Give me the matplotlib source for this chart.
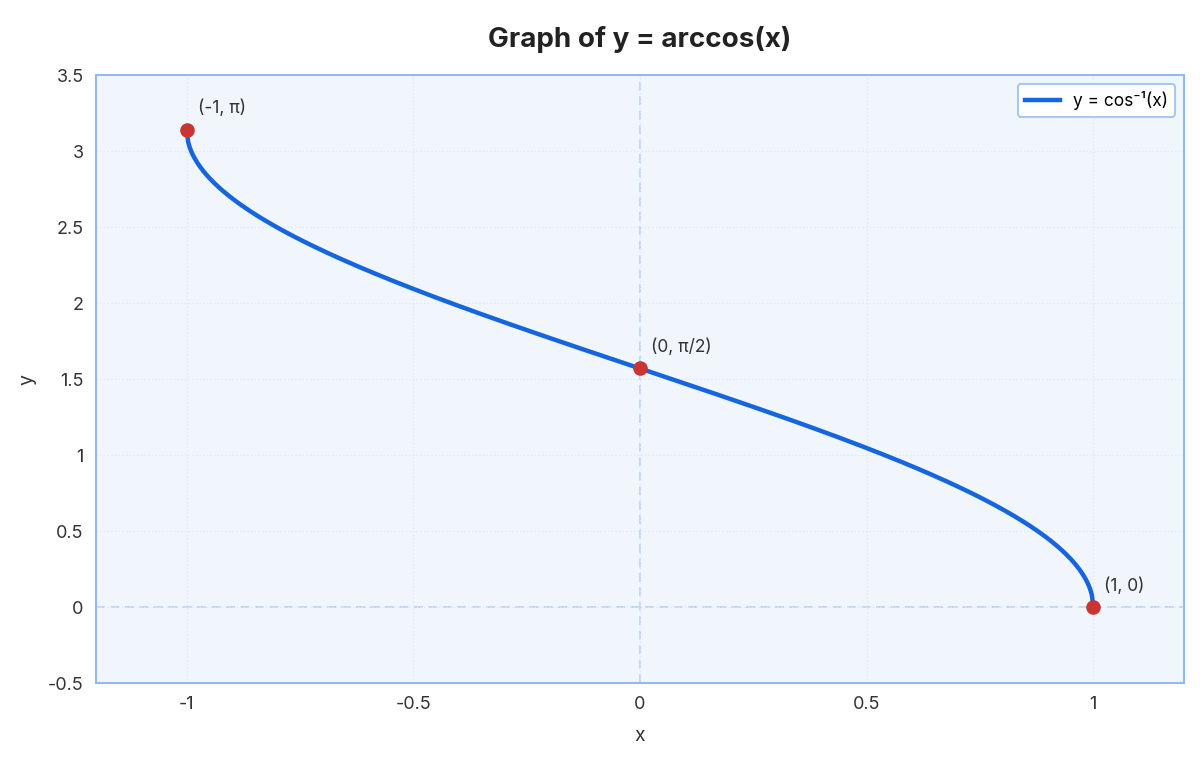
import numpy as np
import matplotlib.pyplot as plt
from matplotlib.ticker import FuncFormatter

plt.rcParams['font.family'] = ['Inter', 'DejaVu Sans']

# Curve samples and marked points
x_vals = np.linspace(-1, 1, 600)
y_vals = np.arccos(x_vals)
point_x = [-1, 0, 1]
point_y = [np.pi, np.pi / 2, 0]
point_labels = ['(-1, π)', '(0, π/2)', '(1, 0)']

fig, ax = plt.subplots(figsize=(12, 7.6), dpi=100)
fig.subplots_adjust(left=0.08, right=0.9867, top=0.901, bottom=0.101)

ax.set_facecolor('#f1f6fd')
for s in ax.spines.values():
    s.set_color('#93b9f3')
    s.set_linewidth(1.5)

ax.axhline(0, color='#bcd3f5', linestyle='--', linewidth=1.3, dashes=(5, 3), zorder=1)
ax.axvline(0, color='#bcd3f5', linestyle='--', linewidth=1.3, dashes=(5, 3), zorder=1)
ax.grid(True, color='#e0e8f4', linestyle=':', linewidth=1)

ax.plot(x_vals, y_vals, color='#1565e0', linewidth=3.2, label='y = cos⁻¹(x)', zorder=3)
ax.scatter(point_x, point_y, color='#cc3333', s=90, zorder=4)
for px, py, lab in zip(point_x, point_y, point_labels):
    ax.annotate(lab, (px, py), xytext=(8, 12), textcoords='offset points',
                fontsize=12.5, color='#333333')

ax.set_xlim(-1.2, 1.2)
ax.set_ylim(-0.5, 3.5)
ax.set_xticks([-1, -0.5, 0, 0.5, 1])
ax.set_yticks([-0.5, 0, 0.5, 1, 1.5, 2, 2.5, 3, 3.5])
fmt = FuncFormatter(lambda v, p: f'{v:g}')
ax.xaxis.set_major_formatter(fmt)
ax.yaxis.set_major_formatter(fmt)
ax.tick_params(length=0, labelsize=13, labelcolor='#333333', pad=9)

ax.set_xlabel('x', fontsize=14, color='#333333', labelpad=10)
ax.set_ylabel('y', fontsize=14, color='#333333', labelpad=8)
ax.set_title('Graph of y = arccos(x)', fontsize=20, fontweight='bold', color='#222222', pad=20)

leg = ax.legend(loc='upper right', fontsize=12.5, frameon=True, fancybox=True,
                edgecolor='#a9c7f3', facecolor='white', framealpha=1)
leg.get_frame().set_linewidth(1.5)

plt.savefig('out.png', dpi=100)
